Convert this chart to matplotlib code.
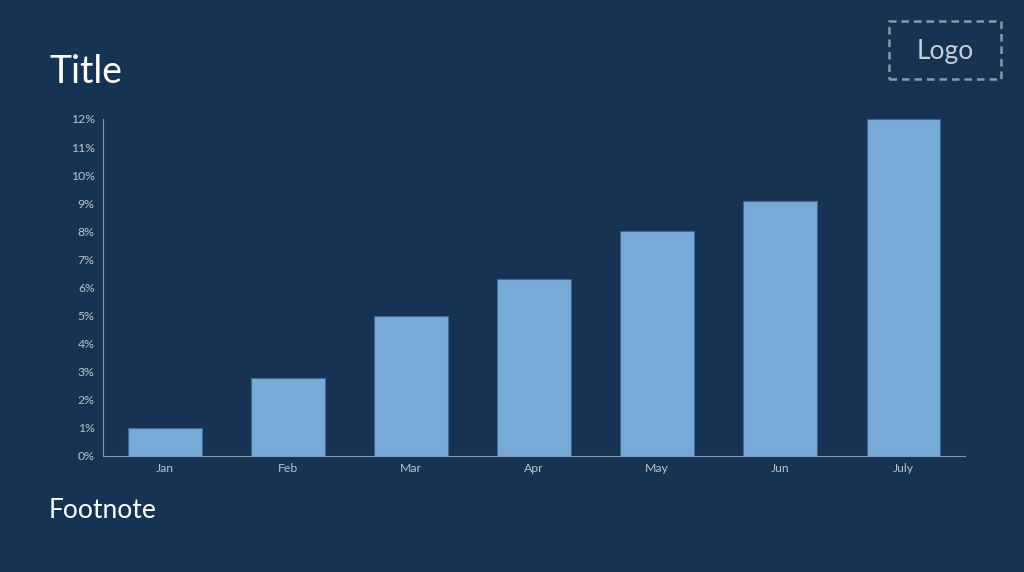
import matplotlib.pyplot as plt
from matplotlib.patches import Rectangle
from matplotlib.ticker import FuncFormatter, MultipleLocator

months = ['Jan', 'Feb', 'Mar', 'Apr', 'May', 'Jun', 'July']
values = [1.0, 2.78, 5.0, 6.3, 8.0, 9.08, 12.0]

bg = '#163354'
bar_color = '#76aad7'
text_color = '#b9c3d0'
axis_color = '#8797ad'

plt.rcParams['font.family'] = ['Lato', 'DejaVu Sans']

fig = plt.figure(figsize=(10.24, 5.72), dpi=100, facecolor=bg)
ax = fig.add_axes([0.1006, 0.2028, 0.8418, 0.5892], facecolor=bg)

ax.bar(range(len(months)), values, width=0.6, color=bar_color,
       edgecolor='#3f6a97', linewidth=0.8)

ax.set_xlim(-0.5, 6.5)
ax.set_ylim(0, 12)
ax.set_xticks(range(len(months)))
ax.set_xticklabels(months)
ax.yaxis.set_major_locator(MultipleLocator(1))
ax.yaxis.set_major_formatter(FuncFormatter(lambda v, p: f'{int(v)}%'))
ax.tick_params(axis='both', length=0, labelsize=8.8, colors=text_color)
ax.tick_params(axis='x', pad=5)
ax.tick_params(axis='y', pad=6)

for side in ['top', 'right']:
    ax.spines[side].set_visible(False)
for side in ['left', 'bottom']:
    ax.spines[side].set_color(axis_color)
    ax.spines[side].set_linewidth(0.8)

# title, footnote, logo placeholder
fig.text(49 / 1024, 1 - 72 / 572, 'Title', color='white', fontsize=27,
         va='center', ha='left')
fig.text(49 / 1024, 1 - 511 / 572, 'Footnote', color='white', fontsize=19,
         va='center', ha='left')
fig.patches.append(Rectangle((889 / 1024, 1 - 79 / 572), 112 / 1024, 58 / 572,
                             transform=fig.transFigure, fill=False,
                             edgecolor='#8c99a8', linewidth=1.8,
                             linestyle=(0, (3, 2))))
fig.text(945 / 1024, 1 - 52 / 572, 'Logo', color='#c8ced6', fontsize=19,
         va='center', ha='center')

fig.savefig('out.png', dpi=100, facecolor=bg)
